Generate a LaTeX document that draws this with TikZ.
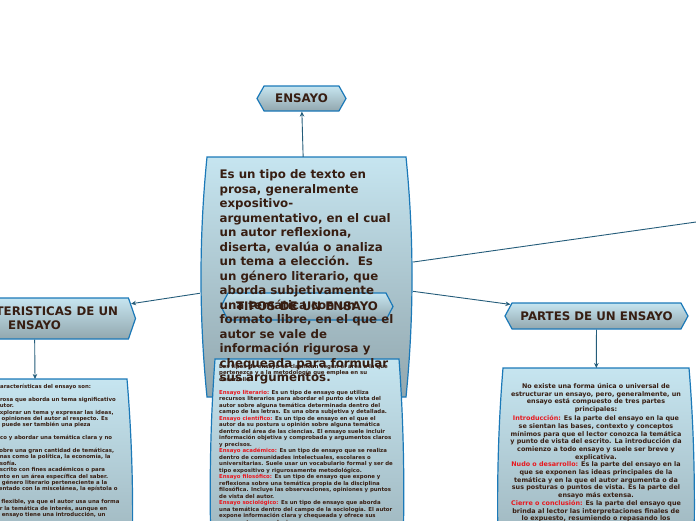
\documentclass[tikz,border=0pt]{standalone}
\usepackage{fontspec}
\setmainfont{DejaVu Sans}
\usepackage{xcolor}
\usetikzlibrary{shapes,arrows.meta,positioning,calc}

\definecolor{bordblue}{RGB}{27,121,184}
\definecolor{boxtop}{RGB}{198,229,240}
\definecolor{boxbot}{RGB}{146,167,174}
\definecolor{linkcol}{RGB}{36,92,122}
\definecolor{txtbrown}{RGB}{55,30,18}
\definecolor{lblred}{RGB}{232,24,30}

\newcommand{\lbl}[1]{\textcolor{lblred}{#1}}

\tikzset{
  topic/.style={signal, signal to=east and west, signal pointer angle=123,
    draw=bordblue, line width=1.2pt, top color=boxtop, bottom color=boxbot,
    text=txtbrown, font=\bfseries\fontsize{11.8}{14}\selectfont,
    inner sep=0pt, align=center},
  panel/.style={draw=bordblue, line width=1.2pt, top color=boxtop, bottom color=boxbot},
  note/.style={text=txtbrown, inner sep=0pt, font=\bfseries},
  link/.style={draw=linkcol, line width=0.9pt, -{Stealth[length=5pt,width=4.5pt]}}
}

\begin{document}
\begin{tikzpicture}[x=1pt,y=-1pt]
\useasboundingbox (0,0) rectangle (696,520);
\clip (0,0) rectangle (696,520);

% boxes
\path[panel] (207,157) -- (406,157) .. controls (414,237) and (414,317) .. (406,397)
  -- (207,397) .. controls (199,317) and (199,237) .. (207,157) -- cycle;
\path[panel] (-80,379) -- (127,379) .. controls (133,450) and (134,520) .. (131,600)
  -- (-80,600) -- cycle;
\path[panel] (215,359) -- (399,359) .. controls (405,440) and (405,520) .. (401,600)
  -- (213,600) .. controls (209,520) and (209,440) .. (215,359) -- cycle;
\path[panel] (503,368) -- (689,368) .. controls (695,440) and (696,520) .. (692,600)
  -- (500,600) .. controls (496,520) and (497,440) .. (503,368) -- cycle;

% topics
\node[topic, minimum width=89pt, minimum height=25pt, signal pointer angle=121] (ensayo) at (301.5,98.5) {ENSAYO};
\node[topic, minimum width=202pt, minimum height=41pt, signal pointer angle=142] (caract) at (34.5,318.5) {CARACTERISTICAS DE UN\\ENSAYO};
\node[topic, minimum width=172pt, minimum height=27pt, signal pointer angle=125] (tipos) at (307,306.5) {TIPOS DE UN ENSAYO};
\node[topic, minimum width=183pt, minimum height=26pt] (partes) at (596.5,316) {PARTES DE UN ENSAYO};

% texts
\node[note, anchor=north west, align=left, font=\bfseries\fontsize{5.4}{6.4}\selectfont] (caraclist) at (-4,384) {%
Características del ensayo son:\\[6.4pt]
prosa que aborda un tema significativo\\
autor.\\
explorar un tema y expresar las ideas,\\
y opiniones del autor al respecto. Es\\
n puede ser también una pieza\\[6.4pt]
fico y abordar una temática clara y no\\[6.4pt]
sobre una gran cantidad de temáticas,\\
linas como la política, la economía, la\\
osofía.\\
escrito con fines académicos o para\\
ento en un área específica del saber.\\
n género literario perteneciente a la\\
rentado con la miscelánea, la epístola o\\[6.4pt]
s flexible, ya que el autor usa una forma\\
ar la temática de interés, aunque en\\
o ensayo tiene una introducción, un};

\node[note, anchor=north west, align=left, font=\bfseries\fontsize{5.4}{6.5}\selectfont] (tiposlist) at (219,363.5) {%
Los tipos de ensayo se clasifican según el área a la que\\
pertenezca y a la metodología que emplea en su\\
desarrollo.\\[6.5pt]
\lbl{Ensayo literario:} Es un tipo de ensayo que utiliza\\
recursos literarios para abordar el punto de vista del\\
autor sobre alguna temática determinada dentro del\\
campo de las letras. Es una obra subjetiva y detallada.\\
\lbl{Ensayo científico:} Es un tipo de ensayo en el que el\\
autor da su postura u opinión sobre alguna temática\\
dentro del área de las ciencias. El ensayo suele incluir\\
información objetiva y comprobada y argumentos claros\\
y precisos.\\
\lbl{Ensayo académico:} Es un tipo de ensayo que se realiza\\
dentro de comunidades intelectuales, escolares o\\
universitarias. Suele usar un vocabulario formal y ser de\\
tipo expositivo y rigurosamente metodológico.\\
\lbl{Ensayo filosófico:} Es un tipo de ensayo que expone y\\
reflexiona sobre una temática propia de la disciplina\\
filosófica. Incluye las observaciones, opiniones y puntos\\
de vista del autor.\\
\lbl{Ensayo sociológico:} Es un tipo de ensayo que aborda\\
una temática dentro del campo de la sociología. El autor\\
expone información clara y chequeada y ofrece sus\\
argumentos y conclusiones.};

\node[note, anchor=north, align=center, inner ysep=15pt, font=\bfseries\fontsize{6.4}{7.7}\selectfont] (parteslist) at (596,368) {%
No existe una forma única o universal de\\
estructurar un ensayo, pero, generalmente, un\\
ensayo está compuesto de tres partes\\
principales:\\[1.5pt]
\lbl{Introducción:} Es la parte del ensayo en la que\\
se sientan las bases, contexto y conceptos\\
mínimos para que el lector conozca la temática\\
y punto de vista del escrito. La introducción da\\
comienzo a todo ensayo y suele ser breve y\\
explicativa.\\
\lbl{Nudo o desarrollo:} Es la parte del ensayo en la\\
que se exponen las ideas principales de la\\
temática y en la que el autor argumenta o da\\
sus posturas o puntos de vista. Es la parte del\\
ensayo más extensa.\\
\lbl{Cierre o conclusión:} Es la parte del ensayo que\\
brinda al lector las interpretaciones finales de\\
lo expuesto, resumiendo o repasando los\\
argumentos principales.};

\node[note, minimum width=213pt, minimum height=240pt, align=left,
  font=\bfseries\fontsize{11.8}{14.5}\selectfont] (def) at (306.5,277) {%
Es un tipo de texto en\\
prosa, generalmente\\
expositivo-\\
argumentativo, en el cual\\
un autor reflexiona,\\
diserta, evalúa o analiza\\
un tema a elección.\ \ Es\\
un género literario, que\\
aborda subjetivamente\\
una temática con un\\
formato libre, en el que el\\
autor se vale de\\
información rigurosa y\\
chequeada para formular\\
sus argumentos.};

\coordinate (caractop) at (35,379);
\coordinate (offright) at (800,207.3);

% connectors
\draw[link] (def) -- (ensayo);
\draw[link] (def) -- (caract);
\draw[link] (def) -- (partes);
\draw[link] (def) -- (offright);
\draw[link] (caract) -- (caractop);
\draw[link] (partes) -- (parteslist);
\end{tikzpicture}
\end{document}
